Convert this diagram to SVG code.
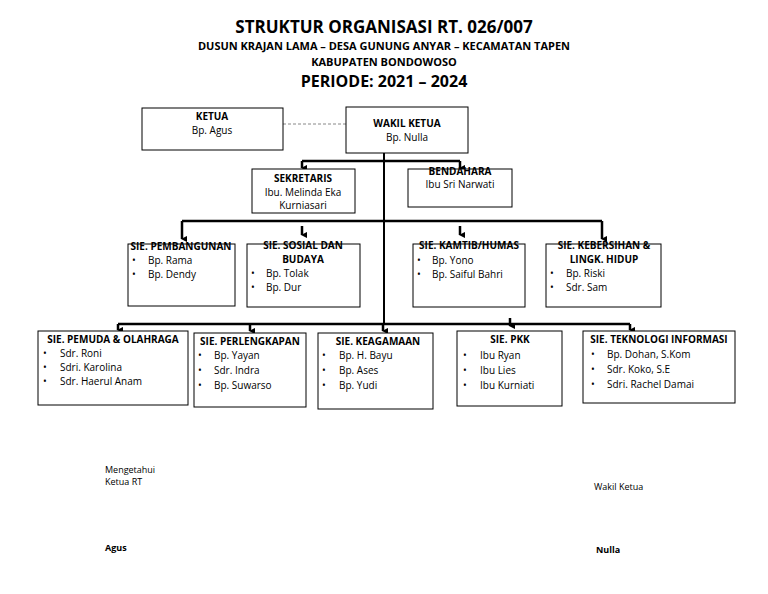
<svg xmlns="http://www.w3.org/2000/svg" width="768" height="594" viewBox="0 0 768 594">
<defs>
<style>
text{font-family:"Open Sans","Liberation Sans",sans-serif;fill:#000;font-size:10px}
.t{font-weight:bold;text-anchor:middle}
.c{text-anchor:middle}
.b{font-weight:bold}
rect{fill:#fff;stroke:#000;stroke-width:1}
.ln{stroke:#000;stroke-width:2.5;fill:none}
</style>
<marker id="a" viewBox="0 0 6 6" refX="3" refY="5" markerWidth="2.5" markerHeight="2.5" orient="auto-start-reverse"><path d="M0,0 L6,0 L3,6 z" fill="#000"/></marker>
</defs>
<rect x="0" y="0" width="768" height="594" style="stroke:none"/>
<g id="title">
<text x="384" y="33" class="t" style="font-size:17px">STRUKTUR ORGANISASI RT. 026/007</text>
<text x="384" y="50" class="t" style="font-size:11px">DUSUN KRAJAN LAMA – DESA GUNUNG ANYAR – KECAMATAN TAPEN</text>
<text x="384" y="66" class="t" style="font-size:11px">KABUPATEN BONDOWOSO</text>
<text x="384" y="87" class="t" style="font-size:16px">PERIODE: 2021 – 2024</text>
</g>
<g id="connectors">
<line x1="283" y1="124" x2="346" y2="124" stroke="#888" stroke-dasharray="3,2"/>
<line class="ln" x1="384" y1="153" x2="384" y2="324" style="stroke-width:2"/>
<line class="ln" x1="302" y1="161" x2="460" y2="161"/>
<line class="ln" x1="302" y1="161" x2="302" y2="168" marker-end="url(#a)"/>
<line class="ln" x1="460" y1="161" x2="460" y2="168" marker-end="url(#a)"/>
<line class="ln" x1="182" y1="221" x2="602" y2="221"/>
<line class="ln" x1="182" y1="221" x2="182" y2="239" marker-end="url(#a)"/>
<line class="ln" x1="302" y1="226" x2="302" y2="235" marker-end="url(#a)"/>
<line class="ln" x1="460" y1="226" x2="460" y2="235" marker-end="url(#a)"/>
<line class="ln" x1="602" y1="221" x2="602" y2="239" marker-end="url(#a)"/>
<line class="ln" x1="118" y1="324" x2="630" y2="324"/>
<line class="ln" x1="118" y1="324" x2="118" y2="330" marker-end="url(#a)"/>
<line class="ln" x1="250" y1="324" x2="250" y2="331" marker-end="url(#a)"/>
<line class="ln" x1="383" y1="324" x2="383" y2="331" marker-end="url(#a)"/>
<line class="ln" x1="510" y1="318" x2="510" y2="326" marker-end="url(#a)"/>
<line class="ln" x1="630" y1="324" x2="630" y2="330" marker-end="url(#a)"/>
</g>
<g id="ketua"><rect x="142" y="108" width="141" height="42"/><text x="212" y="120" class="t">KETUA</text><text x="212" y="134" class="c">Bp. Agus</text></g>
<g id="wakil"><rect x="346" y="107" width="122" height="46"/><text x="407" y="127" class="t">WAKIL KETUA</text><text x="407" y="141" class="c">Bp. Nulla</text></g>
<g id="sekretaris"><rect x="252" y="169" width="103" height="44"/><text x="303" y="182" class="t">SEKRETARIS</text><text x="303" y="196" class="c">Ibu. Melinda Eka</text><text x="303" y="209" class="c">Kurniasari</text></g>
<g id="bendahara"><rect x="408" y="169" width="104" height="38"/><text x="460" y="175" class="t">BENDAHARA</text><text x="460" y="188" class="c">Ibu Sri Narwati</text></g>
<g id="pembangunan"><rect x="128" y="244" width="107" height="62"/><text x="181" y="250" class="t">SIE. PEMBANGUNAN</text><text x="132" y="264">•</text><text x="148" y="264">Bp. Rama</text><text x="132" y="278">•</text><text x="148" y="278">Bp. Dendy</text></g>
<g id="sosial"><rect x="247" y="244" width="113" height="63"/><text x="303" y="249" class="t">SIE. SOSIAL DAN</text><text x="303" y="263" class="t">BUDAYA</text><text x="251" y="277">•</text><text x="266" y="277">Bp. Tolak</text><text x="251" y="291">•</text><text x="266" y="291">Bp. Dur</text></g>
<g id="kamtib"><rect x="413" y="244" width="112" height="63"/><text x="469" y="249" class="t">SIE. KAMTIB/HUMAS</text><text x="417" y="264">•</text><text x="432" y="264">Bp. Yono</text><text x="417" y="278">•</text><text x="432" y="278">Bp. Saiful Bahri</text></g>
<g id="kebersihan"><rect x="546" y="244" width="115" height="63"/><text x="604" y="249" class="t">SIE. KEBERSIHAN &amp;</text><text x="604" y="263" class="t">LINGK. HIDUP</text><text x="550" y="277">•</text><text x="566" y="277">Bp. Riski</text><text x="550" y="291">•</text><text x="566" y="291">Sdr. Sam</text></g>
<g id="pemuda"><rect x="38" y="331" width="150" height="74"/><text x="113" y="343" class="t">SIE. PEMUDA &amp; OLAHRAGA</text><text x="43" y="357">•</text><text x="60" y="357">Sdr. Roni</text><text x="43" y="371">•</text><text x="60" y="371">Sdri. Karolina</text><text x="43" y="385">•</text><text x="60" y="385">Sdr. Haerul Anam</text></g>
<g id="perlengkapan"><rect x="194" y="333" width="112" height="74"/><text x="250" y="345" class="t">SIE. PERLENGKAPAN</text><text x="198" y="359">•</text><text x="214" y="359">Bp. Yayan</text><text x="198" y="374">•</text><text x="214" y="374">Sdr. Indra</text><text x="198" y="389">•</text><text x="214" y="389">Bp. Suwarso</text></g>
<g id="keagamaan"><rect x="318" y="333" width="115" height="76"/><text x="378" y="345" class="t">SIE. KEAGAMAAN</text><text x="322" y="359">•</text><text x="339" y="359">Bp. H. Bayu</text><text x="322" y="374">•</text><text x="339" y="374">Bp. Ases</text><text x="322" y="389">•</text><text x="339" y="389">Bp. Yudi</text></g>
<g id="pkk"><rect x="457" y="331" width="105" height="75"/><text x="510" y="343" class="t">SIE. PKK</text><text x="463" y="359">•</text><text x="480" y="359">Ibu Ryan</text><text x="463" y="374">•</text><text x="480" y="374">Ibu Lies</text><text x="463" y="389">•</text><text x="480" y="389">Ibu Kurniati</text></g>
<g id="teknologi"><rect x="583" y="331" width="152" height="72"/><text x="659" y="343" class="t">SIE. TEKNOLOGI INFORMASI</text><text x="591" y="358">•</text><text x="607" y="358">Bp. Dohan, S.Kom</text><text x="591" y="373">•</text><text x="607" y="373">Sdr. Koko, S.E</text><text x="591" y="388">•</text><text x="607" y="388">Sdri. Rachel Damai</text></g>
<g id="footer" style="font-size:9px">
<text x="105" y="473" style="font-size:9px">Mengetahui</text>
<text x="105" y="485" style="font-size:9px">Ketua RT</text>
<text x="105" y="551" class="b" style="font-size:9px">Agus</text>
<text x="594" y="490" style="font-size:9px">Wakil Ketua</text>
<text x="596" y="553" class="b" style="font-size:9px">Nulla</text>
</g>
</svg>
